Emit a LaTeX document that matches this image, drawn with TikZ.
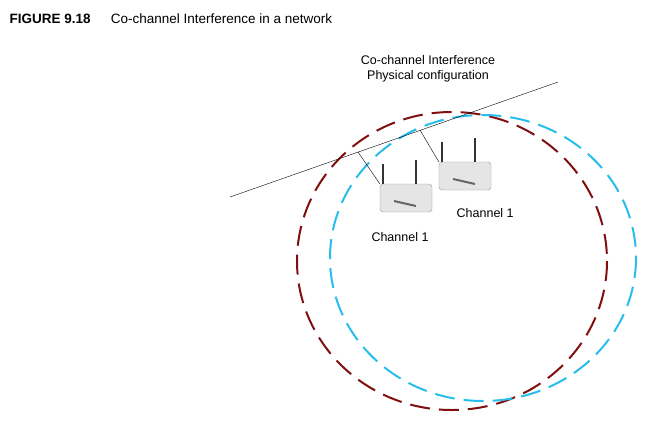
\documentclass[tikz,border=0pt]{standalone}
\usepackage{fontspec}
\setmainfont{Liberation Sans}
\usetikzlibrary{positioning}
\definecolor{dred}{RGB}{128,16,16}
\definecolor{cyanb}{RGB}{40,190,235}
\begin{document}
\begin{tikzpicture}[x=1pt, y=-1pt, font=\fontsize{12.5}{15}\selectfont,
  ap/.style={draw=gray!80, fill=gray!20, minimum width=52pt, minimum height=28pt, rounded corners=3pt},
  ant/.style={line width=2.2pt, black!80}]
  \useasboundingbox (0,0) rectangle (664,424);
  \node[anchor=west, font=\fontsize{13.5}{16}\selectfont] at (6,19) {\textbf{FIGURE 9.18}\hspace{1.5em}Co-channel Interference in a network};
  \node[align=center] (cap) at (428,69) {Co-channel Interference\\Physical configuration};

  % coverage areas
  \draw[dred, line width=2pt, dash pattern=on 20pt off 9pt] (452,261) ellipse [x radius=155, y radius=149];
  \draw[cyanb, line width=2pt, dash pattern=on 20pt off 9pt] (483,258) ellipse [x radius=153, y radius=143];

  % wired network
  \coordinate (w1) at (230,197);
  \coordinate (w2) at (558,82);
  \draw (w1) -- (w2);
  \coordinate (t1) at (358,152);
  \coordinate (t2) at (420,130);

  % access points
  \node[ap] (ap1) at (406,198) {};
  \node[ap] (ap2) at (465,176) {};
  \draw[ant] ([xshift=3pt]ap1.north west) -- ++(0,-20);
  \draw[ant] ([xshift=-16pt]ap1.north east) -- ++(0,-24);
  \draw[ant] ([xshift=3pt]ap2.north west) -- ++(0,-20);
  \draw[ant] ([xshift=-16pt]ap2.north east) -- ++(0,-24);
  \draw[black!60, line width=2pt] ([xshift=-12pt,yshift=-3pt]ap1.center) -- ([xshift=10pt,yshift=-8pt]ap1.center);
  \draw[black!60, line width=2pt] ([xshift=-12pt,yshift=-3pt]ap2.center) -- ([xshift=10pt,yshift=-8pt]ap2.center);
  \draw (t1) -- (ap1.north west);
  \draw (t2) -- (ap2.north west);

  \node[below=17pt of ap1, xshift=-6pt] (c1) {Channel 1};
  \node[below=15pt of ap2.south east, xshift=-6pt] (c2) {Channel 1};
\end{tikzpicture}
\end{document}
